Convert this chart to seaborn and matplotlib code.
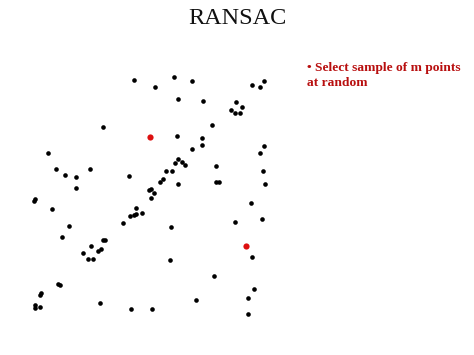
import matplotlib
matplotlib.use("Agg")
import matplotlib.pyplot as plt
import seaborn as sns
import pandas as pd

# Point positions (x to the right, y downward, pixel-like units)
black_x = [133.7, 102.7, 48.3, 55.7, 65.3, 76.0, 89.7, 129.0, 76.3, 149.0, 34.7,
           173.7, 154.7, 192.3, 252.0, 264.0, 259.7, 177.7, 203.0, 236.3, 241.7, 231.0,
           235.3, 240.0, 211.7, 177.3, 202.3, 202.0, 192.3, 264.0, 260.0, 177.7, 175.0,
           182.3, 184.7, 216.0, 165.7, 171.7, 262.7, 163.3, 160.3, 177.7, 216.0, 218.7,
           265.3, 151.0, 154.0, 151.0, 34.3, 52.3, 69.0, 62.3, 122.7, 130.0, 134.3,
           136.0, 136.3, 141.7, 103.3, 105.3, 91.3, 83.0, 97.7, 101.0, 88.0, 93.0,
           58.3, 60.3, 39.7, 41.3, 34.7, 35.0, 40.3, 100.3, 131.0, 251.0, 235.0,
           261.7, 170.7, 251.7, 170.3, 213.7, 254.0, 247.7, 196.3, 151.7, 248.3]
black_y = [80.0, 126.7, 152.7, 169.3, 175.0, 177.3, 169.0, 176.0, 187.7, 190.0, 199.3,
           77.0, 86.7, 81.0, 85.0, 80.7, 87.3, 99.3, 101.3, 102.0, 107.0, 110.0,
           113.3, 113.3, 125.0, 136.3, 138.0, 144.7, 149.0, 146.3, 153.3, 159.3, 162.7,
           162.3, 165.3, 166.0, 171.3, 171.0, 170.7, 178.7, 182.0, 184.0, 182.3, 182.0,
           184.3, 189.0, 193.3, 197.7, 201.0, 209.0, 226.0, 237.3, 223.0, 216.3, 214.7,
           214.0, 208.3, 213.0, 240.0, 240.3, 246.0, 253.3, 251.0, 249.3, 259.3, 259.3,
           284.0, 285.3, 295.3, 293.3, 305.0, 308.3, 307.3, 303.0, 309.3, 202.7, 221.7,
           218.7, 226.7, 257.3, 260.0, 276.3, 288.7, 297.7, 300.3, 309.3, 313.7]
red_x = [150.0, 246.0]
red_y = [136.7, 246.0]

title_text = "RANSAC"
bullet_text = "\u2022 Select sample of m points\nat random"

df = pd.DataFrame({
    "x": black_x + red_x,
    "y": black_y + red_y,
    "kind": ["data"] * len(black_x) + ["sample"] * len(red_x),
})

sns.set_style("white")
fig = plt.figure(figsize=(4.74, 3.55), dpi=100)
ax = fig.add_axes([0, 0, 1, 1])

sns.scatterplot(data=df[df.kind == "data"], x="x", y="y", color="black",
                s=11, linewidth=0, ax=ax, legend=False)
sns.scatterplot(data=df[df.kind == "sample"], x="x", y="y", color="#dd1010",
                s=20, linewidth=0, ax=ax, legend=False)

ax.set_xlim(0, 474)
ax.set_ylim(355, 0)
ax.axis("off")

fig.text(237 / 474, 1 - 19 / 355, title_text, ha="center", va="center",
         fontsize=17.5, family="Liberation Serif", color="#111111")
fig.text(307 / 474, 1 - 62.5 / 355, bullet_text, ha="left", va="top",
         fontsize=9.7, family="Liberation Serif", fontweight="bold",
         color="#b80f0f", linespacing=1.3)

fig.savefig("out.png", dpi=100)
